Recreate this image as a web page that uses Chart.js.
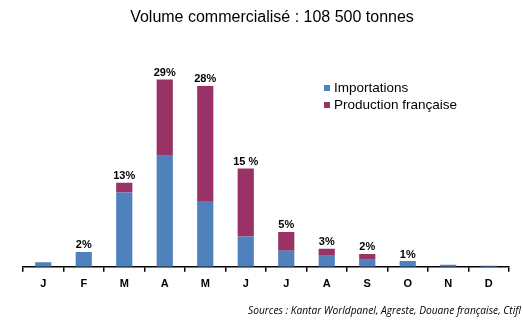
<!DOCTYPE html>
<html>
<head>
<meta charset="utf-8">
<script src="https://cdn.jsdelivr.net/npm/chart.js@4"></script>
<style>
  html, body { margin: 0; padding: 0; background: #fff; }
  #wrap { width: 523px; height: 321px; position: relative; }
</style>
</head>
<body>
<div id="wrap"><canvas id="chart"></canvas></div>
<script>
const months = ["J", "F", "M", "A", "M", "J", "J", "A", "S", "O", "N", "D"];
const importations = [0.7, 2.3, 11.5, 17.2, 10.2, 4.7, 2.5, 1.7, 1.1, 0.9, 0.3, 0.15];
const production = [0, 0, 1.5, 11.8, 17.8, 10.5, 2.9, 1.1, 0.9, 0, 0, 0];
const shareLabels = ["", "2%", "13%", "29%", "28%", "15 %", "5%", "3%", "2%", "1%", "", ""];

const titleText = "Volume commercialisé : 108 500 tonnes";
const sourceText = "Sources : Kantar Worldpanel, Agreste, Douane française, Ctifl";

// titles, legend, totals and source line drawn by hand
const decorations = {
    id: "decorations",
    afterDatasetsDraw(chart) {
        const ctx = chart.ctx;
        const x = chart.scales.x;
        const y = chart.scales.y;
        ctx.save();

        // share labels above each stack
        ctx.fillStyle = "#000";
        ctx.font = "bold 11px 'Liberation Sans', Arial, sans-serif";
        ctx.textAlign = "center";
        ctx.textBaseline = "bottom";
        shareLabels.forEach((lbl, i) => {
            if (!lbl) return;
            const total = importations[i] + production[i];
            ctx.fillText(lbl, x.getPixelForValue(i), y.getPixelForValue(total) - 1);
        });

        // title
        ctx.font = "16px 'Liberation Sans', Arial, sans-serif";
        ctx.textBaseline = "middle";
        ctx.fillText(titleText, 272, 18);

        // legend
        ctx.textAlign = "left";
        ctx.font = "13.5px 'Liberation Sans', Arial, sans-serif";
        chart.data.datasets.forEach((ds, i) => {
            const ly = 88 + i * 17;
            ctx.fillStyle = ds.backgroundColor;
            ctx.fillRect(324, ly - 3, 6, 6);
            ctx.fillStyle = "#000";
            ctx.fillText(ds.label, 334, ly);
        });

        // sources
        ctx.font = "italic 10.2px 'Open Sans', sans-serif";
        ctx.textAlign = "right";
        ctx.fillText(sourceText, 521, 311);
        ctx.restore();
    }
};

new Chart(document.getElementById("chart"), {
    type: "bar",
    data: {
        labels: months,
        datasets: [
            { label: "Importations", data: importations, backgroundColor: "#4F81BD" },
            { label: "Production française", data: production, backgroundColor: "#993366" }
        ]
    },
    options: {
        responsive: true,
        maintainAspectRatio: false,
        animation: false,
        datasets: {
            bar: { barPercentage: 0.5, categoryPercentage: 0.8 }
        },
        layout: {
            padding: { left: 23, right: 14, top: 73, bottom: 24 }
        },
        plugins: {
            legend: { display: false },
            tooltip: { enabled: false }
        },
        scales: {
            x: {
                stacked: true,
                border: { display: true, color: "#000", width: 1.5 },
                grid: {
                    display: true,
                    offset: true,
                    drawOnChartArea: false,
                    color: "#000",
                    lineWidth: 1.5,
                    tickLength: 5
                },
                ticks: {
                    color: "#000",
                    padding: 6,
                    font: { family: "'Liberation Sans', Arial, sans-serif", size: 11, weight: "bold" }
                }
            },
            y: {
                stacked: true,
                display: false,
                min: 0,
                max: 30
            }
        }
    },
    plugins: [decorations]
});
</script>
</body>
</html>
